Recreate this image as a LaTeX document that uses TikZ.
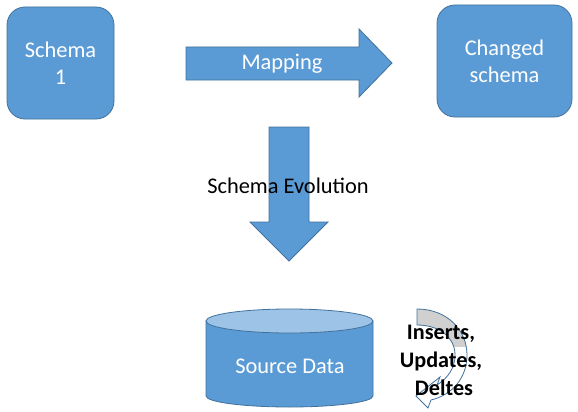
\documentclass[tikz,border=0pt]{standalone}
\usepackage{fontspec}
\setmainfont{Carlito}
\definecolor{boxfill}{HTML}{5B9BD5}
\definecolor{boxline}{HTML}{41719C}
\definecolor{toplight}{HTML}{9DC3E6}
\definecolor{bandgray}{HTML}{D0D0D0}
\begin{document}
\begin{tikzpicture}[x=1pt,y=-1pt,
  txt/.style={font=\fontsize{22.4}{27}\selectfont},
  shapefill/.style={fill=boxfill, draw=boxline, line width=0.8pt},
  boxnode/.style={shapefill, rounded corners=18pt, text=white, align=center, txt, inner sep=0pt}]
\useasboundingbox (0,0) rectangle (578,412);

% boxes
\node[boxnode, minimum width=107pt, minimum height=112pt] (s1) at (60.5,63) {Schema\\1};
\node[boxnode, minimum width=135pt, minimum height=112pt] (cs) at (504.5,61) {Changed\\schema};

% mapping arrow
\path[shapefill] (186,47) -- (359,47) -- (359,29) -- (392,63) -- (359,97) -- (359,80) -- (186,80) -- cycle;
\node[txt, text=white] (map) at (282,64) {Mapping};

% schema evolution arrow
\path[shapefill] (269,127) -- (309,127) -- (309,222) -- (328,222) -- (289,261) -- (250,222) -- (269,222) -- cycle;
\node[txt, text=black] (evo) at (288,186) {Schema Evolution};

% cylinder
\path[shapefill] (206,321) -- (206,396) arc[start angle=180, end angle=0, x radius=83.5, y radius=11] -- (373,321) -- cycle;
\path[fill=toplight, draw=boxline, line width=0.8pt] (289.5,321) ellipse[x radius=83.5, y radius=12];
\node[txt, text=white] (src) at (290,366) {Source Data};

% curved arrow
\def\curvedarrow{(417,309) .. controls (447,309) and (467,330) .. (467,355)
   .. controls (467,378) and (452,395) .. (431,400)
   -- (428,408) -- (416,396) -- (440,377) -- (437,385)
   .. controls (448,378) and (455,368) .. (455,355)
   .. controls (455,338) and (440,325) .. (417,325) -- cycle}
\path[fill=white] \curvedarrow;
\begin{scope}
  \clip (400,300) rectangle (480,346);
  \path[fill=bandgray] \curvedarrow;
\end{scope}
\path[draw=boxline, line width=0.8pt] \curvedarrow;
\node[font=\fontsize{22.2}{28}\selectfont\bfseries, align=center, text=black] (ops) at (441,360) {Inserts,\\Updates,\\\hspace*{6pt}Deltes};
\end{tikzpicture}
\end{document}
